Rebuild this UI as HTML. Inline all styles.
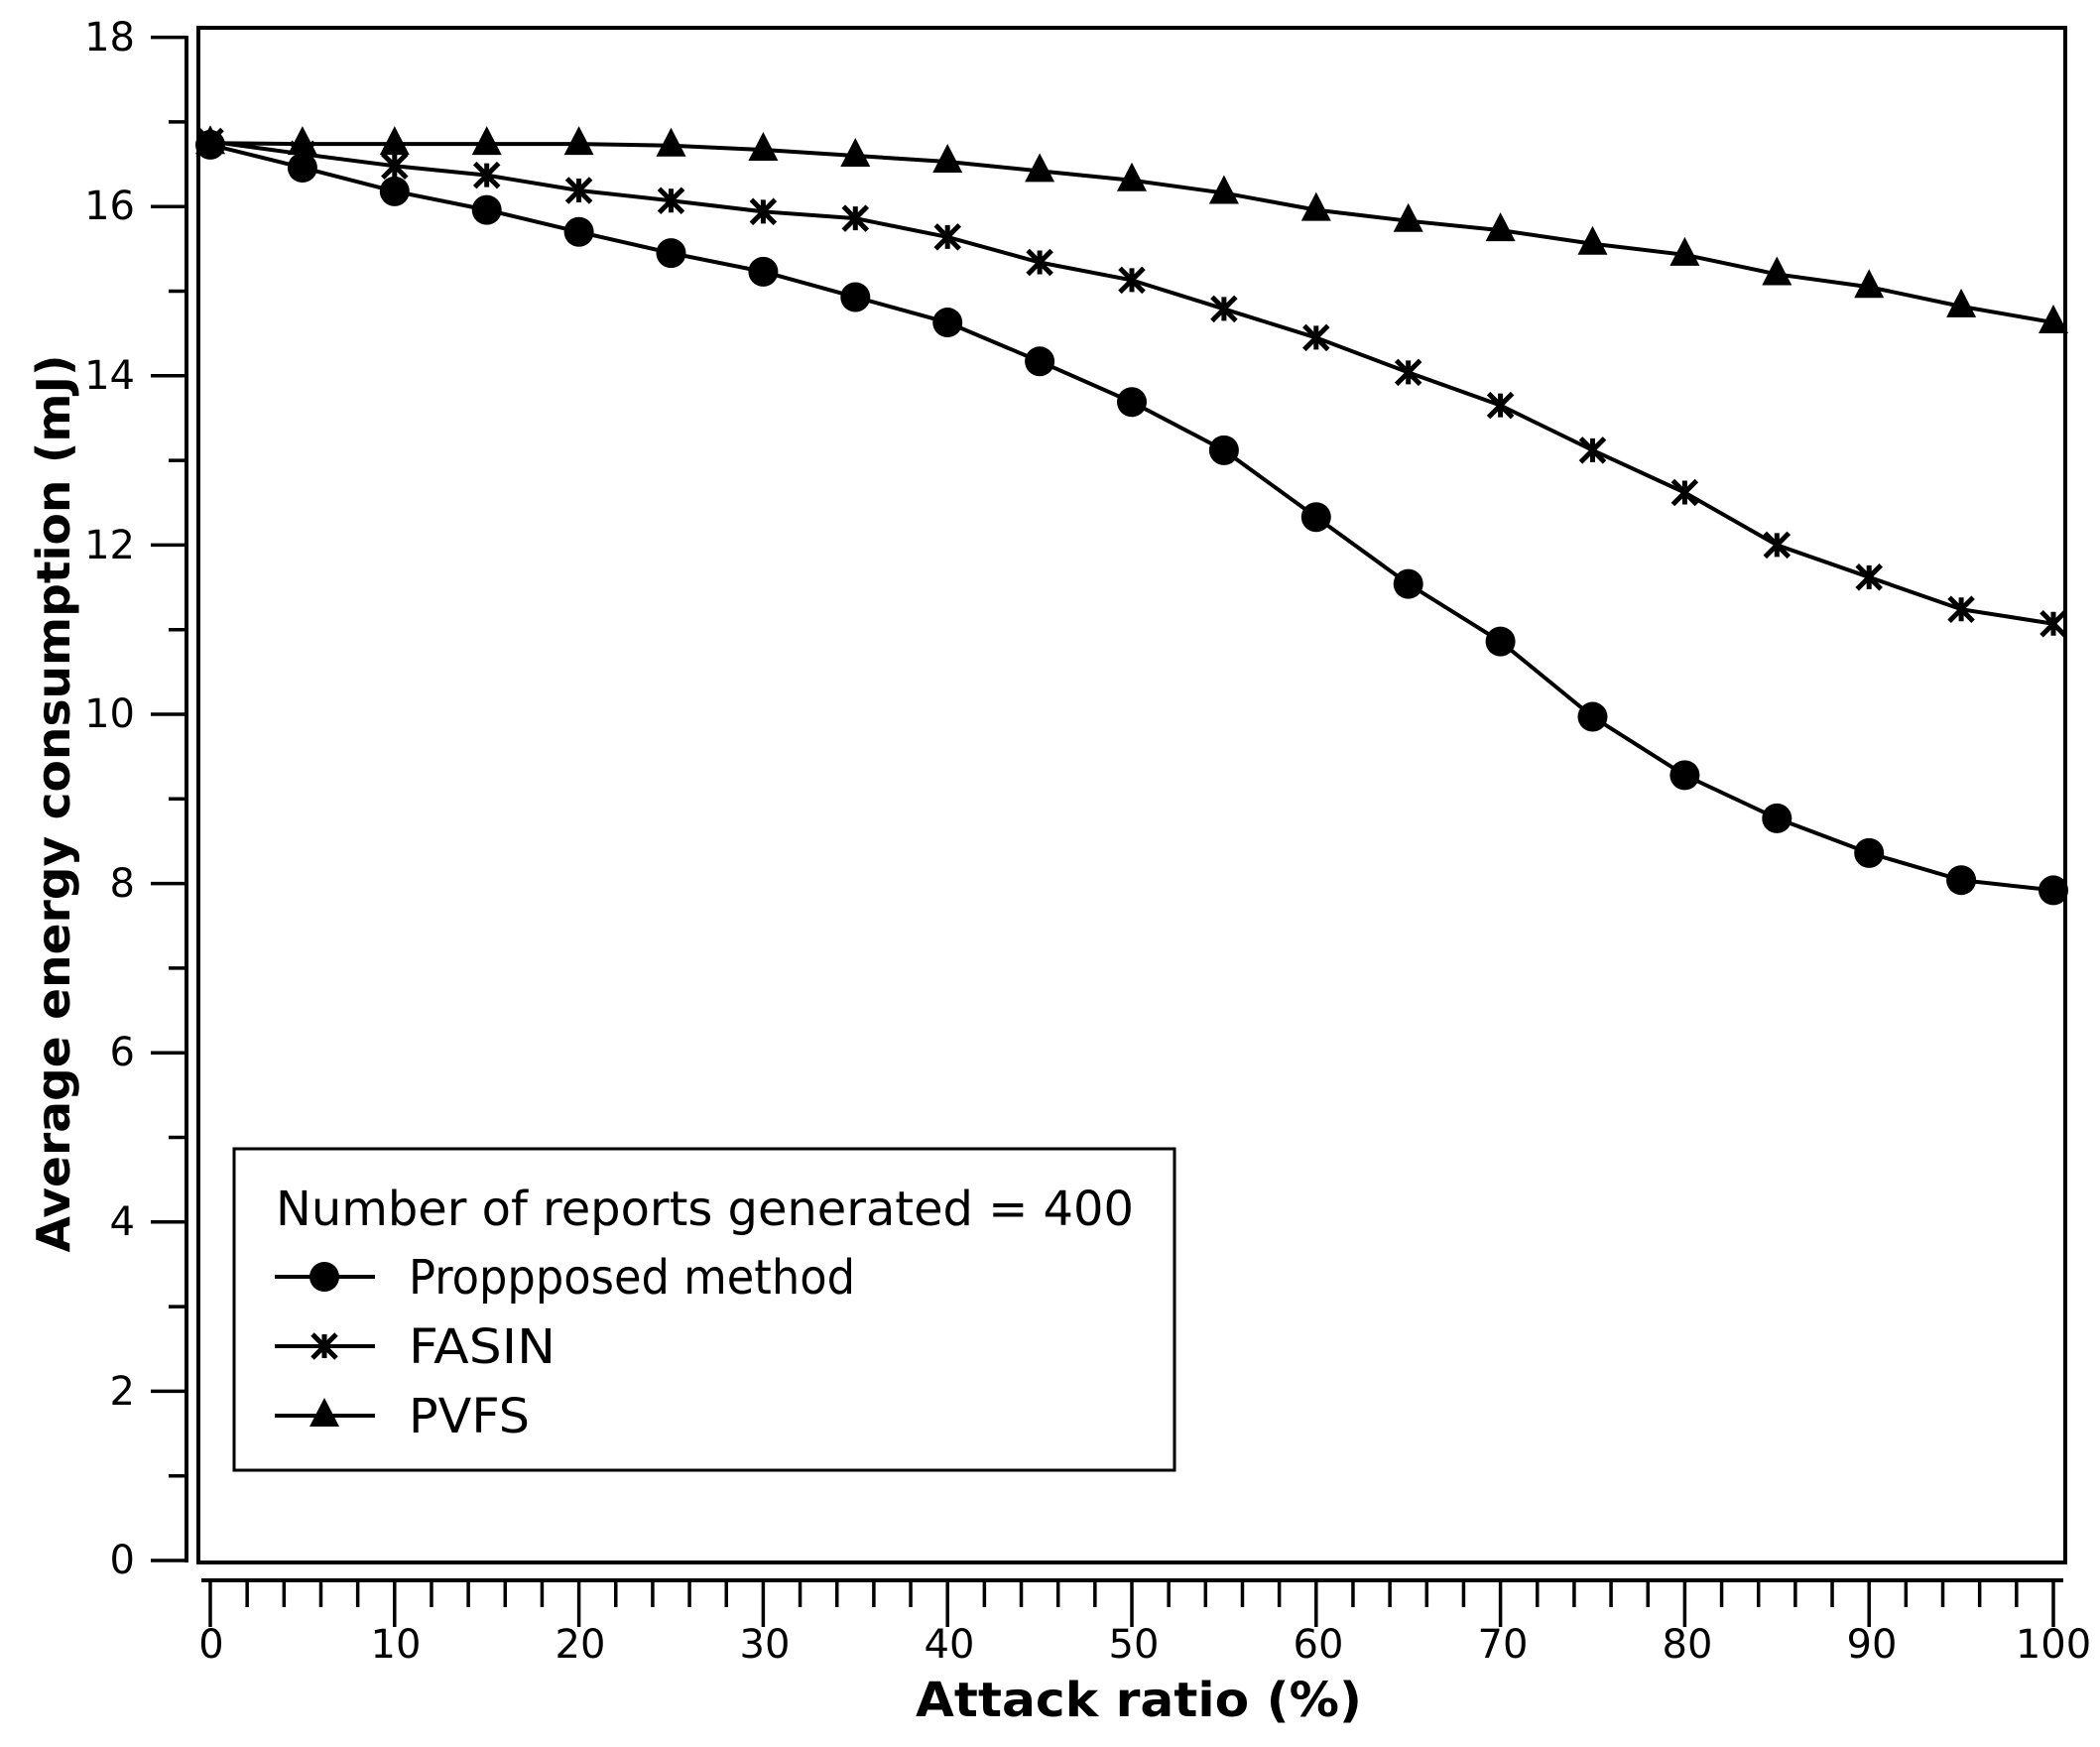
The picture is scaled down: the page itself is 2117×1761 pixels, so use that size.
<!DOCTYPE html>
<html><head><meta charset="utf-8"><style>
html,body{margin:0;padding:0;background:#fff;}
svg{display:block;}
text{font-family:"DejaVu Sans","Liberation Sans",sans-serif;fill:#000;}
</style></head><body>
<svg id="s" width="2117" height="1761" viewBox="0 0 2117 1761" xmlns="http://www.w3.org/2000/svg">
<rect width="2117" height="1761" fill="#fff"/>
<rect x="200" y="28" width="1882" height="1547" fill="none" stroke="#000" stroke-width="4"/>
<line x1="188" y1="36" x2="188" y2="1575" stroke="#000" stroke-width="4"/>
<line x1="203" y1="1593" x2="2080" y2="1593" stroke="#000" stroke-width="4"/>
<g id="ticks" stroke="#000" stroke-width="3.5"></g>
<g font-size="40" text-anchor="end">
<text x="136" y="51">18</text><text x="136" y="221">16</text><text x="136" y="392">14</text>
<text x="136" y="563">12</text><text x="136" y="733">10</text><text x="136" y="904">8</text>
<text x="136" y="1074">6</text><text x="136" y="1245">4</text><text x="136" y="1416">2</text>
<text x="136" y="1586">0</text>
</g>
<g font-size="40" text-anchor="middle">
<text x="213" y="1671">0</text><text x="399" y="1671">10</text><text x="585" y="1671">20</text>
<text x="771" y="1671">30</text><text x="957" y="1671">40</text><text x="1143" y="1671">50</text>
<text x="1329" y="1671">60</text><text x="1515" y="1671">70</text><text x="1701" y="1671">80</text>
<text x="1887" y="1671">90</text><text x="2070" y="1671">100</text>
</g>
<text x="1148" y="1730" font-size="48" font-weight="bold" text-anchor="middle" textLength="450" lengthAdjust="spacingAndGlyphs">Attack ratio (%)</text>
<text transform="translate(70,810) rotate(-90)" font-size="46" font-weight="bold" text-anchor="middle" textLength="905" lengthAdjust="spacingAndGlyphs">Average energy consumption (mJ)</text>
<g id="series" stroke="#000" stroke-width="4" fill="none"></g>
<rect x="236" y="1158" width="948" height="324" fill="#fff" stroke="#000" stroke-width="3"/>
<g font-size="48">
<text x="278" y="1235" textLength="865" lengthAdjust="spacingAndGlyphs">Number of reports generated = 400</text>
<text x="412" y="1304" textLength="450" lengthAdjust="spacingAndGlyphs">Proppposed method</text>
<text x="412" y="1374" textLength="148" lengthAdjust="spacingAndGlyphs">FASIN</text>
<text x="412" y="1444" textLength="122" lengthAdjust="spacingAndGlyphs">PVFS</text>
</g>
<g id="leg" stroke="#000" stroke-width="4"></g>
</svg>
<script>
var NS="http://www.w3.org/2000/svg";
function el(p,t,a){var e=document.createElementNS(NS,t);for(var k in a)e.setAttribute(k,a[k]);p.appendChild(e);return e;}
var X=function(v){return 212+18.58*v;},Y=function(v){return 1573-85.3*v;};
var tk=document.getElementById('ticks');
for(var v=0;v<=18;v++){var y=Y(v);el(tk,'line',{x1:v%2==0?152:170,y1:y,x2:188,y2:y});}
for(var v=0;v<=100;v+=2){var x=X(v);el(tk,'line',{x1:x,y1:1593,x2:x,y2:v%10==0?1640:1620});}
var xs=[];for(var i=0;i<=100;i+=5)xs.push(i);
var P=[16.73,16.46,16.18,15.96,15.70,15.45,15.23,14.93,14.63,14.17,13.69,13.12,12.33,11.54,10.86,9.97,9.28,8.77,8.36,8.04,7.92];
var F=[16.77,16.62,16.48,16.37,16.19,16.07,15.94,15.86,15.64,15.34,15.13,14.79,14.45,14.04,13.65,13.12,12.62,12.0,11.62,11.24,11.07];
var V=[16.75,16.74,16.74,16.74,16.74,16.72,16.67,16.6,16.53,16.42,16.31,16.16,15.96,15.83,15.72,15.56,15.43,15.2,15.05,14.82,14.63];
var g=document.getElementById('series');
function mark(p,t,x,y){
 if(t==0)el(p,'circle',{cx:x,cy:y,r:15,fill:'#000',stroke:'none'});
 else if(t==1){var s=12;el(p,'path',{d:'M'+(x-s)+' '+(y-s)+'L'+(x+s)+' '+(y+s)+'M'+(x-s)+' '+(y+s)+'L'+(x+s)+' '+(y-s)+'M'+x+' '+(y-s)+'L'+x+' '+(y+s),stroke:'#000','stroke-width':5});}
 else el(p,'path',{d:'M'+x+' '+(y-18)+'L'+(x+15)+' '+(y+11)+'L'+(x-15)+' '+(y+11)+'Z',fill:'#000',stroke:'none'});
}
[[P,0],[F,1],[V,2]].forEach(function(s){
 var d='';s[0].forEach(function(v,i){d+=(i?'L':'M')+X(xs[i])+' '+Y(v);});
 el(g,'path',{d:d});
 s[0].forEach(function(v,i){mark(g,s[1],X(xs[i]),Y(v));});
});
var lg=document.getElementById('leg');
[[1287,0],[1357,1],[1427,2]].forEach(function(a){
 el(lg,'line',{x1:277,y1:a[0],x2:378,y2:a[0]});mark(lg,a[1],327,a[0]);
});
</script>
</body></html>
